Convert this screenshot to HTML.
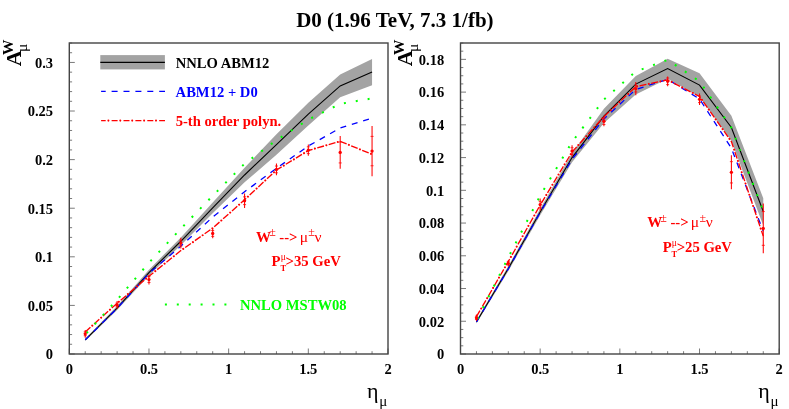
<!DOCTYPE html>
<html><head><meta charset="utf-8"><title>D0 muon asymmetry</title>
<style>
html,body{margin:0;padding:0;background:#fff}
svg{display:block}
text{font-family:"Liberation Serif","DejaVu Serif",serif}
.b{font-weight:bold}
.r{font-weight:normal}
.tk{font-weight:bold;font-size:14.5px;fill:#000}
.lg{font-weight:bold;font-size:14.6px}
</style></head><body>
<svg width="789" height="409" viewBox="0 0 789 409">
<rect width="789" height="409" fill="#fff"/>
<text class="b" x="394.9" y="27" font-size="21" text-anchor="middle">D0 (1.96 TeV, 7.3 1/fb)</text>
<g>
<polygon points="85.23,338.64 117.10,306.09 148.97,269.64 180.84,237.38 212.71,202.48 244.58,167.69 276.45,134.26 308.32,102.67 340.19,74.59 372.06,58.94 372.06,85.18 340.19,97.33 308.32,125.61 276.45,154.86 244.58,182.27 212.71,213.37 180.84,245.15 148.97,275.47 117.10,309.97 85.23,340.98" fill="#a3a3a3"/>
<polyline points="85.23,339.81 117.10,308.03 148.97,272.56 180.84,241.26 212.71,207.93 244.58,174.98 276.45,144.56 308.32,114.14 340.19,85.96 372.06,72.06" fill="none" stroke="#000" stroke-width="1.1"/>
<polyline points="85.23,339.81 117.10,308.32 148.97,273.33 180.84,246.12 212.71,217.06 244.58,191.70 276.45,168.37 308.32,146.02 340.19,128.04 372.06,118.03" fill="none" stroke="#00f" stroke-width="1.3" stroke-dasharray="6 5.9"/>
<polyline points="85.23,331.94 117.10,303.27 148.97,276.25 180.84,250.59 212.71,228.14 244.58,199.76 276.45,170.02 308.32,150.49 340.19,141.35 372.06,154.28" fill="none" stroke="#f00" stroke-width="1.35" stroke-dasharray="7 4.9"/>
<polyline points="85.23,331.94 117.10,303.27 148.97,276.25 180.84,250.59 212.71,228.14 244.58,199.76 276.45,170.02 308.32,150.49 340.19,141.35 372.06,154.28" fill="none" stroke="#f00" stroke-width="2.05" stroke-linecap="round" stroke-dasharray="0.01 11.89" stroke-dashoffset="-9.45"/>
<polyline points="85.23,334.56 117.10,299.77 148.97,262.74 180.84,228.73 212.71,195.78 244.58,163.71 276.45,140.19 308.32,119.58 340.19,103.84 372.06,98.40" fill="none" stroke="#0f0" stroke-width="2" stroke-dasharray="2 10.02" stroke-dashoffset="-2.00"/>
<line x1="85.23" y1="329.90" x2="85.23" y2="337.67" stroke="#f00" stroke-width="1.05"/>
<path d="M83.73 331.84h3M83.73 335.73h3" stroke="#f00" stroke-width="0.8"/>
<circle cx="85.23" cy="333.79" r="1.65" fill="#f00"/>
<line x1="117.10" y1="301.03" x2="117.10" y2="308.81" stroke="#f00" stroke-width="1.05"/>
<path d="M115.60 302.98h3M115.60 306.86h3" stroke="#f00" stroke-width="0.8"/>
<circle cx="117.10" cy="304.92" r="1.65" fill="#f00"/>
<line x1="148.97" y1="274.69" x2="148.97" y2="284.41" stroke="#f00" stroke-width="1.05"/>
<path d="M147.47 276.64h3M147.47 282.47h3" stroke="#f00" stroke-width="0.8"/>
<circle cx="148.97" cy="279.55" r="1.65" fill="#f00"/>
<line x1="180.84" y1="237.76" x2="180.84" y2="248.45" stroke="#f00" stroke-width="1.05"/>
<path d="M179.34 240.19h3M179.34 246.02h3" stroke="#f00" stroke-width="0.8"/>
<circle cx="180.84" cy="243.11" r="1.65" fill="#f00"/>
<line x1="212.71" y1="228.63" x2="212.71" y2="238.35" stroke="#f00" stroke-width="1.05"/>
<path d="M211.21 230.57h3M211.21 236.40h3" stroke="#f00" stroke-width="0.8"/>
<circle cx="212.71" cy="233.49" r="1.65" fill="#f00"/>
<line x1="244.58" y1="193.45" x2="244.58" y2="208.02" stroke="#f00" stroke-width="1.05"/>
<path d="M243.08 196.85h3M243.08 204.62h3" stroke="#f00" stroke-width="0.8"/>
<circle cx="244.58" cy="200.74" r="1.65" fill="#f00"/>
<line x1="276.45" y1="163.61" x2="276.45" y2="175.27" stroke="#f00" stroke-width="1.05"/>
<path d="M274.95 166.04h3M274.95 172.84h3" stroke="#f00" stroke-width="0.8"/>
<circle cx="276.45" cy="169.44" r="1.65" fill="#f00"/>
<line x1="308.32" y1="144.56" x2="308.32" y2="155.83" stroke="#f00" stroke-width="1.05"/>
<path d="M306.82 146.80h3M306.82 153.60h3" stroke="#f00" stroke-width="0.8"/>
<circle cx="308.32" cy="150.20" r="1.65" fill="#f00"/>
<line x1="340.19" y1="136.11" x2="340.19" y2="168.76" stroke="#f00" stroke-width="1.05"/>
<path d="M338.69 141.94h3M338.69 162.93h3" stroke="#f00" stroke-width="0.8"/>
<circle cx="340.19" cy="152.43" r="1.65" fill="#f00"/>
<line x1="372.06" y1="125.90" x2="372.06" y2="176.24" stroke="#f00" stroke-width="1.05"/>
<path d="M370.56 136.40h3M370.56 165.75h3" stroke="#f00" stroke-width="0.8"/>
<circle cx="372.06" cy="151.07" r="1.65" fill="#f00"/>
<path d="M69.30 354.00v-5.5M85.23 354.00v-2.8M101.17 354.00v-2.8M117.11 354.00v-2.8M133.04 354.00v-2.8M148.97 354.00v-5.5M164.91 354.00v-2.8M180.84 354.00v-2.8M196.78 354.00v-2.8M212.71 354.00v-2.8M228.65 354.00v-5.5M244.58 354.00v-2.8M260.52 354.00v-2.8M276.45 354.00v-2.8M292.39 354.00v-2.8M308.32 354.00v-5.5M324.26 354.00v-2.8M340.20 354.00v-2.8M356.13 354.00v-2.8M372.06 354.00v-2.8M388.00 354.00v-5.5M69.30 354.00h5.5M69.30 344.28h2.8M69.30 334.56h2.8M69.30 324.84h2.8M69.30 315.12h2.8M69.30 305.41h5.5M69.30 295.69h2.8M69.30 285.97h2.8M69.30 276.25h2.8M69.30 266.53h2.8M69.30 256.81h5.5M69.30 247.09h2.8M69.30 237.38h2.8M69.30 227.66h2.8M69.30 217.94h2.8M69.30 208.22h5.5M69.30 198.50h2.8M69.30 188.78h2.8M69.30 179.06h2.8M69.30 169.34h2.8M69.30 159.62h5.5M69.30 149.91h2.8M69.30 140.19h2.8M69.30 130.47h2.8M69.30 120.75h2.8M69.30 111.03h5.5M69.30 101.31h2.8M69.30 91.59h2.8M69.30 81.88h2.8M69.30 72.16h2.8M69.30 62.44h5.5M69.30 52.72h2.8M69.30 43.00h2.8" stroke="#222" stroke-width="0.6" fill="none"/>
<rect x="69.30" y="43.00" width="318.70" height="311.00" fill="none" stroke="#444" stroke-width="1.4"/>
<text class="tk" text-anchor="end" x="53.0" y="359.3">0</text>
<text class="tk" text-anchor="end" x="53.0" y="310.7">0.05</text>
<text class="tk" text-anchor="end" x="53.0" y="262.1">0.1</text>
<text class="tk" text-anchor="end" x="53.0" y="213.5">0.15</text>
<text class="tk" text-anchor="end" x="53.0" y="164.9">0.2</text>
<text class="tk" text-anchor="end" x="53.0" y="116.3">0.25</text>
<text class="tk" text-anchor="end" x="53.0" y="67.7">0.3</text>
<text class="tk" text-anchor="middle" x="69.3" y="373.7">0</text>
<text class="tk" text-anchor="middle" x="149.0" y="373.7">0.5</text>
<text class="tk" text-anchor="middle" x="228.6" y="373.7">1</text>
<text class="tk" text-anchor="middle" x="308.3" y="373.7">1.5</text>
<text class="tk" text-anchor="middle" x="388.0" y="373.7">2</text>
</g>
<g>
<polygon points="476.44,320.28 508.31,266.10 540.17,208.65 572.05,153.32 603.91,108.64 635.79,75.90 667.65,58.71 699.53,73.28 731.39,115.84 763.27,198.34 763.27,225.51 731.39,140.72 699.53,96.85 667.65,78.68 635.79,94.40 603.91,123.04 572.05,162.16 540.17,215.20 508.31,271.01 476.44,323.55" fill="#a3a3a3"/>
<polyline points="476.44,321.92 508.31,268.56 540.17,211.92 572.05,157.58 603.91,116.17 635.79,84.08 667.65,68.53 699.53,85.07 731.39,127.46 763.27,211.43" fill="none" stroke="#000" stroke-width="1.1"/>
<polyline points="476.44,321.92 508.31,268.88 540.17,212.41 572.05,159.38 603.91,118.95 635.79,89.49 667.65,79.34 699.53,98.98 731.39,148.25 763.27,231.24" fill="none" stroke="#00f" stroke-width="1.3" stroke-dasharray="6 5.9"/>
<polyline points="476.44,316.68 508.31,261.52 540.17,205.05 572.05,152.01 603.91,116.66 635.79,86.70 667.65,79.83 699.53,96.52 731.39,141.54 763.27,236.15" fill="none" stroke="#f00" stroke-width="1.35" stroke-dasharray="7 4.9"/>
<polyline points="476.44,316.68 508.31,261.52 540.17,205.05 572.05,152.01 603.91,116.66 635.79,86.70 667.65,79.83 699.53,96.52 731.39,141.54 763.27,236.15" fill="none" stroke="#f00" stroke-width="2.05" stroke-linecap="round" stroke-dasharray="0.01 11.89" stroke-dashoffset="-9.45"/>
<polyline points="476.44,320.94 508.31,257.43 540.17,195.72 572.05,142.03 603.91,99.63 635.79,71.48 667.65,59.86 699.53,81.30 731.39,127.79 763.27,210.78" fill="none" stroke="#0f0" stroke-width="2" stroke-dasharray="2 10.10" stroke-dashoffset="-2.30"/>
<line x1="476.44" y1="314.55" x2="476.44" y2="321.10" stroke="#f00" stroke-width="1.05"/>
<path d="M474.94 316.19h3M474.94 319.46h3" stroke="#f00" stroke-width="0.8"/>
<circle cx="476.44" cy="317.83" r="1.65" fill="#f00"/>
<line x1="508.31" y1="260.05" x2="508.31" y2="266.59" stroke="#f00" stroke-width="1.05"/>
<path d="M506.81 261.68h3M506.81 264.96h3" stroke="#f00" stroke-width="0.8"/>
<circle cx="508.31" cy="263.32" r="1.65" fill="#f00"/>
<line x1="540.17" y1="198.50" x2="540.17" y2="210.61" stroke="#f00" stroke-width="1.05"/>
<path d="M538.67 201.28h3M538.67 207.83h3" stroke="#f00" stroke-width="0.8"/>
<circle cx="540.17" cy="204.56" r="1.65" fill="#f00"/>
<line x1="572.05" y1="145.30" x2="572.05" y2="156.76" stroke="#f00" stroke-width="1.05"/>
<path d="M570.55 147.76h3M570.55 154.31h3" stroke="#f00" stroke-width="0.8"/>
<circle cx="572.05" cy="151.03" r="1.65" fill="#f00"/>
<line x1="603.91" y1="116.33" x2="603.91" y2="126.15" stroke="#f00" stroke-width="1.05"/>
<path d="M602.41 117.97h3M602.41 124.51h3" stroke="#f00" stroke-width="0.8"/>
<circle cx="603.91" cy="121.24" r="1.65" fill="#f00"/>
<line x1="635.79" y1="82.12" x2="635.79" y2="95.22" stroke="#f00" stroke-width="1.05"/>
<path d="M634.29 85.39h3M634.29 91.94h3" stroke="#f00" stroke-width="0.8"/>
<circle cx="635.79" cy="88.67" r="1.65" fill="#f00"/>
<line x1="667.65" y1="76.39" x2="667.65" y2="86.21" stroke="#f00" stroke-width="1.05"/>
<path d="M666.15 78.03h3M666.15 84.58h3" stroke="#f00" stroke-width="0.8"/>
<circle cx="667.65" cy="81.30" r="1.65" fill="#f00"/>
<line x1="699.53" y1="93.58" x2="699.53" y2="105.04" stroke="#f00" stroke-width="1.05"/>
<path d="M698.03 96.03h3M698.03 102.58h3" stroke="#f00" stroke-width="0.8"/>
<circle cx="699.53" cy="99.31" r="1.65" fill="#f00"/>
<line x1="731.39" y1="155.29" x2="731.39" y2="189.33" stroke="#f00" stroke-width="1.05"/>
<path d="M729.89 161.67h3M729.89 182.95h3" stroke="#f00" stroke-width="0.8"/>
<circle cx="731.39" cy="172.31" r="1.65" fill="#f00"/>
<line x1="763.27" y1="203.57" x2="763.27" y2="253.33" stroke="#f00" stroke-width="1.05"/>
<path d="M761.77 211.59h3M761.77 245.31h3" stroke="#f00" stroke-width="0.8"/>
<circle cx="763.27" cy="228.45" r="1.65" fill="#f00"/>
<path d="M460.50 354.00v-5.5M476.44 354.00v-2.8M492.37 354.00v-2.8M508.31 354.00v-2.8M524.24 354.00v-2.8M540.17 354.00v-5.5M556.11 354.00v-2.8M572.05 354.00v-2.8M587.98 354.00v-2.8M603.91 354.00v-2.8M619.85 354.00v-5.5M635.79 354.00v-2.8M651.72 354.00v-2.8M667.65 354.00v-2.8M683.59 354.00v-2.8M699.53 354.00v-5.5M715.46 354.00v-2.8M731.39 354.00v-2.8M747.33 354.00v-2.8M763.27 354.00v-2.8M779.20 354.00v-5.5M460.50 354.00h5.5M460.50 345.82h2.8M460.50 337.63h2.8M460.50 329.45h2.8M460.50 321.26h5.5M460.50 313.08h2.8M460.50 304.89h2.8M460.50 296.71h2.8M460.50 288.53h5.5M460.50 280.34h2.8M460.50 272.16h2.8M460.50 263.97h2.8M460.50 255.79h5.5M460.50 247.61h2.8M460.50 239.42h2.8M460.50 231.24h2.8M460.50 223.05h5.5M460.50 214.87h2.8M460.50 206.68h2.8M460.50 198.50h2.8M460.50 190.32h5.5M460.50 182.13h2.8M460.50 173.95h2.8M460.50 165.76h2.8M460.50 157.58h5.5M460.50 149.39h2.8M460.50 141.21h2.8M460.50 133.03h2.8M460.50 124.84h5.5M460.50 116.66h2.8M460.50 108.47h2.8M460.50 100.29h2.8M460.50 92.11h5.5M460.50 83.92h2.8M460.50 75.74h2.8M460.50 67.55h2.8M460.50 59.37h5.5M460.50 51.18h2.8M460.50 43.00h2.8" stroke="#222" stroke-width="0.6" fill="none"/>
<rect x="460.50" y="43.00" width="318.70" height="311.00" fill="none" stroke="#444" stroke-width="1.4"/>
<text class="tk" text-anchor="end" x="444.2" y="359.3">0</text>
<text class="tk" text-anchor="end" x="444.2" y="326.6">0.02</text>
<text class="tk" text-anchor="end" x="444.2" y="293.8">0.04</text>
<text class="tk" text-anchor="end" x="444.2" y="261.1">0.06</text>
<text class="tk" text-anchor="end" x="444.2" y="228.4">0.08</text>
<text class="tk" text-anchor="end" x="444.2" y="195.6">0.1</text>
<text class="tk" text-anchor="end" x="444.2" y="162.9">0.12</text>
<text class="tk" text-anchor="end" x="444.2" y="130.1">0.14</text>
<text class="tk" text-anchor="end" x="444.2" y="97.4">0.16</text>
<text class="tk" text-anchor="end" x="444.2" y="64.7">0.18</text>
<text class="tk" text-anchor="middle" x="460.5" y="373.7">0</text>
<text class="tk" text-anchor="middle" x="540.2" y="373.7">0.5</text>
<text class="tk" text-anchor="middle" x="619.9" y="373.7">1</text>
<text class="tk" text-anchor="middle" x="699.5" y="373.7">1.5</text>
<text class="tk" text-anchor="middle" x="779.2" y="373.7">2</text>
</g>
<!-- legend -->
<rect x="100.3" y="55.1" width="64.6" height="14.3" fill="#a3a3a3"/>
<line x1="100.3" y1="62.4" x2="164.9" y2="62.4" stroke="#000" stroke-width="1.15"/>
<text class="lg" x="175.7" y="67.8" fill="#000">NNLO ABM12</text>
<line x1="101.1" y1="91.4" x2="165" y2="91.4" stroke="#00f" stroke-width="1.3" stroke-dasharray="6 5.9" stroke-dashoffset="1.4"/>
<text class="lg" x="175.6" y="96.5" fill="#00f">ABM12 + D0</text>
<line x1="101.1" y1="120.6" x2="165" y2="120.6" stroke="#f00" stroke-width="1.35" stroke-dasharray="6 5.9" stroke-dashoffset="1.4"/>
<line x1="101.1" y1="120.6" x2="165" y2="120.6" stroke="#f00" stroke-width="2.05" stroke-linecap="round" stroke-dasharray="0.01 11.89" stroke-dashoffset="-7.3"/>
<text class="lg" x="175.7" y="125.7" fill="#f00">5-th order polyn.</text>
<line x1="164.9" y1="304.6" x2="228" y2="304.6" stroke="#0f0" stroke-width="2" stroke-dasharray="2 9.9"/>
<text class="lg" x="240" y="310.3" fill="#0f0">NNLO MSTW08</text>
<g fill="#f00" transform="translate(0,0)">
<text class="b" x="256.1" y="241.7" font-size="15">W</text>
<text class="r" x="272.5" y="236.3" font-size="12" text-anchor="middle">±</text>
<text class="b" x="279.3" y="241.7" font-size="14.7">--&gt;</text>
<text class="r" x="303.9" y="241.7" font-size="15.5" text-anchor="middle">μ</text>
<text class="r" x="311.6" y="236.3" font-size="12" text-anchor="middle">±</text>
<text class="r" x="318.1" y="241.7" font-size="15.5" text-anchor="middle">ν</text>
<text class="b" x="271.6" y="266.1" font-size="14.7">P</text>
<text class="r" x="283.3" y="260.3" font-size="9.5" text-anchor="middle">μ</text>
<text class="b" x="283.3" y="271" font-size="8.5" text-anchor="middle">T</text>
<text class="b" x="285.6" y="266.1" font-size="14.7">&gt;35 GeV</text>
</g>
<g fill="#f00" transform="translate(391.1,-14.5)">
<text class="b" x="256.1" y="241.7" font-size="15">W</text>
<text class="r" x="272.5" y="236.3" font-size="12" text-anchor="middle">±</text>
<text class="b" x="279.3" y="241.7" font-size="14.7">--&gt;</text>
<text class="r" x="303.9" y="241.7" font-size="15.5" text-anchor="middle">μ</text>
<text class="r" x="311.6" y="236.3" font-size="12" text-anchor="middle">±</text>
<text class="r" x="318.1" y="241.7" font-size="15.5" text-anchor="middle">ν</text>
<text class="b" x="271.6" y="266.1" font-size="14.7">P</text>
<text class="r" x="283.3" y="260.3" font-size="9.5" text-anchor="middle">μ</text>
<text class="b" x="283.3" y="271" font-size="8.5" text-anchor="middle">T</text>
<text class="b" x="285.6" y="266.1" font-size="14.7">&gt;25 GeV</text>
</g>
<g transform="translate(0,0)">
<g transform="translate(20.6,66.3) rotate(-90)"><text class="b" x="0" y="0" font-size="22">A</text><text class="b" x="11.4" y="-7.7" font-size="15.5">W</text><text class="r" x="14.3" y="6.4" font-size="15.5">μ</text></g>
<text class="r" x="367" y="398.2" font-size="22">η</text><text class="r" x="379.3" y="405.8" font-size="15">μ</text>
</g>
<g transform="translate(391.2,0)">
<g transform="translate(20.6,66.3) rotate(-90)"><text class="b" x="0" y="0" font-size="22">A</text><text class="b" x="11.4" y="-7.7" font-size="15.5">W</text><text class="r" x="14.3" y="6.4" font-size="15.5">μ</text></g>
<text class="r" x="367" y="398.2" font-size="22">η</text><text class="r" x="379.3" y="405.8" font-size="15">μ</text>
</g>
</svg>
</body></html>
